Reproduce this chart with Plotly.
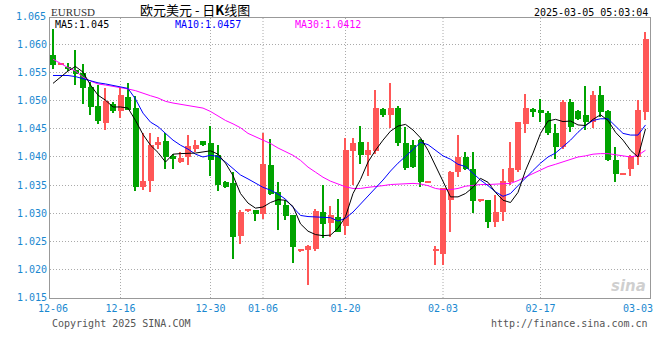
import plotly.graph_objects as go

# ---------------- data ----------------
tick_labels = ["12-06", "12-16", "12-30", "01-06", "01-20", "02-03", "02-17", "03-03"]
tick_idx = [0, 9, 21, 28, 39, 52, 65, 78]
y_ticks = [1.015, 1.020, 1.025, 1.030, 1.035, 1.040, 1.045, 1.050, 1.055, 1.060]

opens = [1.0581, 1.0564, 1.0561, 1.0554, 1.0550, 1.0524, 1.0490, 1.0461, 1.0495, 1.0482,
         1.0507, 1.0487, 1.0347, 1.0357, 1.0422, 1.0428, 1.0401, 1.0391, 1.0400, 1.0414,
         1.0428, 1.0425, 1.0403, 1.0356, 1.0353, 1.0259, 1.0304, 1.0305, 1.0298, 1.0385,
         1.0338, 1.0314, 1.0296, 1.0233, 1.0235, 1.0236, 1.0303, 1.0283, 1.0293, 1.0278,
         1.0411, 1.0427, 1.0403, 1.0411, 1.0486, 1.0474, 1.0488, 1.0425, 1.0421, 1.0431,
         1.0355, 1.0233, 1.0227, 1.0323, 1.0373, 1.0400, 1.0378, 1.0322, 1.0323, 1.0284,
         1.0302, 1.0356, 1.0376, 1.0459, 1.0486, 1.0483, 1.0479, 1.0442, 1.0418, 1.0498,
         1.0481, 1.0474, 1.0462, 1.0510, 1.0481, 1.0394, 1.0369, 1.0378, 1.0400, 1.0480]
highs = [1.0627, 1.0567, 1.0568, 1.0591, 1.0566, 1.0534, 1.0528, 1.0522, 1.0498, 1.0522,
         1.0532, 1.0508, 1.0443, 1.0443, 1.0436, 1.0442, 1.0406, 1.0409, 1.0439, 1.0430,
         1.0429, 1.0455, 1.0421, 1.0357, 1.0373, 1.0306, 1.0306, 1.0306, 1.0443, 1.0432,
         1.0356, 1.0323, 1.0297, 1.0237, 1.0243, 1.0308, 1.0351, 1.0312, 1.0326, 1.0433,
         1.0433, 1.0455, 1.0427, 1.0520, 1.0488, 1.0532, 1.0490, 1.0454, 1.0430, 1.0432,
         1.0357, 1.0241, 1.0345, 1.0375, 1.0439, 1.0409, 1.0409, 1.0324, 1.0324, 1.0332,
         1.0379, 1.0427, 1.0463, 1.0512, 1.0487, 1.0503, 1.0481, 1.0458, 1.0501, 1.0503,
         1.0483, 1.0526, 1.0517, 1.0526, 1.0483, 1.0418, 1.0372, 1.0403, 1.0501, 1.0623]
lows = [1.0556, 1.0563, 1.0553, 1.0528, 1.0495, 1.0474, 1.0458, 1.0448, 1.0478, 1.0470,
        1.0484, 1.0340, 1.0342, 1.0338, 1.0415, 1.0378, 1.0378, 1.0389, 1.0385, 1.0409,
        1.0420, 1.0367, 1.0340, 1.0345, 1.0219, 1.0246, 1.0303, 1.0287, 1.0290, 1.0332,
        1.0270, 1.0288, 1.0212, 1.0231, 1.0172, 1.0233, 1.0255, 1.0257, 1.0266, 1.0261,
        1.0350, 1.0387, 1.0367, 1.0405, 1.0472, 1.0451, 1.0420, 1.0377, 1.0380, 1.0346,
        1.0354, 1.0208, 1.0207, 1.0267, 1.0364, 1.0376, 1.0300, 1.0321, 1.0274, 1.0275,
        1.0287, 1.0350, 1.0374, 1.0443, 1.0471, 1.0462, 1.0440, 1.0397, 1.0415, 1.0445,
        1.0466, 1.0448, 1.0451, 1.0471, 1.0392, 1.0356, 1.0368, 1.0367, 1.0385, 1.0465]
closes = [1.0564, 1.0566, 1.0557, 1.0548, 1.0523, 1.0489, 1.0464, 1.0500, 1.0482, 1.0510,
          1.0484, 1.0347, 1.0357, 1.0421, 1.0427, 1.0400, 1.0397, 1.0398, 1.0419, 1.0421,
          1.0422, 1.0394, 1.0350, 1.0347, 1.0258, 1.0303, 1.0305, 1.0298, 1.0387, 1.0335,
          1.0314, 1.0295, 1.0240, 1.0235, 1.0241, 1.0304, 1.0280, 1.0296, 1.0267, 1.0412,
          1.0425, 1.0403, 1.0412, 1.0488, 1.0474, 1.0488, 1.0425, 1.0380, 1.0382, 1.0356,
          1.0356, 1.0235, 1.0344, 1.0373, 1.0400, 1.0379, 1.0322, 1.0323, 1.0284, 1.0303,
          1.0357, 1.0380, 1.0462, 1.0488, 1.0480, 1.0480, 1.0442, 1.0418, 1.0498, 1.0453,
          1.0468, 1.0462, 1.0510, 1.0480, 1.0394, 1.0370, 1.0370, 1.0401, 1.0483, 1.0610]

ma5 = [1.0531, 1.0542, 1.0553, 1.0561, 1.0551, 1.0528, 1.0510, 1.0501, 1.0489, 1.0489,
       1.0487, 1.0465, 1.0440, 1.0421, 1.0408, 1.0391, 1.0405, 1.0406, 1.0406, 1.0407,
       1.0409, 1.0411, 1.0405, 1.0389, 1.0367, 1.0335, 1.0318, 1.0309, 1.0311, 1.0319,
       1.0324, 1.0323, 1.0312, 1.0281, 1.0268, 1.0262, 1.0260, 1.0261, 1.0273, 1.0294,
       1.0335, 1.0360, 1.0391, 1.0412, 1.0430, 1.0446, 1.0455, 1.0458, 1.0448, 1.0434,
       1.0412, 1.0385, 1.0359, 1.0329, 1.0329, 1.0335, 1.0346, 1.0362, 1.0355, 1.0337,
       1.0323, 1.0319, 1.0337, 1.0376, 1.0407, 1.0442, 1.0464, 1.0467, 1.0463, 1.0464,
       1.0457, 1.0456, 1.0467, 1.0475, 1.0465, 1.0444, 1.0430, 1.0412, 1.0400, 1.0450]
ma10 = [1.0545, 1.0545, 1.0545, 1.0543, 1.0539, 1.0535, 1.0532, 1.0530, 1.0527, 1.0524,
        1.0522, 1.0503, 1.0478, 1.0462, 1.0454, 1.0442, 1.0430, 1.0421, 1.0414, 1.0405,
        1.0400, 1.0403, 1.0401, 1.0391, 1.0379, 1.0368, 1.0361, 1.0353, 1.0346, 1.0341,
        1.0334, 1.0325, 1.0311, 1.0296, 1.0294, 1.0293, 1.0293, 1.0292, 1.0286, 1.0291,
        1.0302, 1.0316, 1.0330, 1.0344, 1.0359, 1.0375, 1.0389, 1.0401, 1.0414, 1.0426,
        1.0422, 1.0412, 1.0402, 1.0396, 1.0387, 1.0383, 1.0371, 1.0359, 1.0349, 1.0338,
        1.0330, 1.0335, 1.0349, 1.0363, 1.0376, 1.0389, 1.0400, 1.0407, 1.0419, 1.0430,
        1.0444, 1.0456, 1.0465, 1.0468, 1.0468, 1.0455, 1.0442, 1.0439, 1.0439, 1.0457]
ma30 = [1.0574, 1.0566, 1.0559, 1.0553, 1.0542, 1.0535, 1.0530, 1.0528, 1.0526, 1.0524,
        1.0521, 1.0518, 1.0513, 1.0509, 1.0505, 1.0499, 1.0496, 1.0494, 1.0492, 1.0490,
        1.0487, 1.0481, 1.0473, 1.0465, 1.0459, 1.0452, 1.0442, 1.0436, 1.0431, 1.0424,
        1.0416, 1.0409, 1.0403, 1.0394, 1.0382, 1.0373, 1.0364, 1.0357, 1.0352, 1.0347,
        1.0344, 1.0344, 1.0346, 1.0347, 1.0349, 1.0351, 1.0352, 1.0353, 1.0353, 1.0352,
        1.0349, 1.0344, 1.0342, 1.0342, 1.0344, 1.0348, 1.0350, 1.0351, 1.0351, 1.0352,
        1.0353, 1.0353, 1.0358, 1.0364, 1.0370, 1.0377, 1.0383, 1.0387, 1.0391, 1.0396,
        1.0400, 1.0402, 1.0405, 1.0406, 1.0406, 1.0404, 1.0402, 1.0400, 1.0403, 1.0412]

# ---------------- figure ----------------
RED = "#ff5757"
GREEN = "#00a300"
n = len(opens)
idx = list(range(n))
up = [c >= o for o, c in zip(opens, closes)]
colors = [RED if u else GREEN for u in up]
body_base = [min(o, c) for o, c in zip(opens, closes)]
body_h = [max(abs(c - o), 0.00018) for o, c in zip(opens, closes)]
wick_h = [h - l for h, l in zip(highs, lows)]

fig = go.Figure()
fig.add_trace(go.Bar(x=idx, y=wick_h, base=lows, width=0.14,
                     marker=dict(color=colors, line=dict(width=0)), hoverinfo="skip"))
fig.add_trace(go.Bar(x=idx, y=body_h, base=body_base, width=0.8,
                     marker=dict(color=colors, line=dict(width=0)), hoverinfo="skip"))
fig.add_trace(go.Scatter(x=idx, y=ma30, mode="lines", line=dict(color="#ff00ff", width=1)))
fig.add_trace(go.Scatter(x=idx, y=ma10, mode="lines", line=dict(color="#0000ff", width=1)))
fig.add_trace(go.Scatter(x=idx, y=ma5, mode="lines", line=dict(color="#000000", width=1)))

mono = "DejaVu Sans Mono"
axis_blue = "#1a88d0"
grid_col = "#aaaaaa"

fig.update_layout(
    width=660, height=360,
    margin=dict(l=50, r=10, t=18, b=62, autoexpand=False),
    paper_bgcolor="white", plot_bgcolor="white",
    showlegend=False, barmode="overlay", bargap=0,
    hovermode=False,
    xaxis=dict(range=[-0.4, 79.6], showgrid=False, zeroline=False, automargin=False,
               tickmode="array", tickvals=tick_idx, ticktext=tick_labels,
               tickfont=dict(family=mono, size=10, color=axis_blue),
               ticks="", ticklabelstandoff=1,
               showline=True, linecolor="#999999", linewidth=1, mirror=True),
    yaxis=dict(range=[1.01491, 1.06473], zeroline=False, automargin=False,
               tickmode="array", tickvals=y_ticks,
               ticktext=["%.3f" % v for v in y_ticks],
               tickfont=dict(family=mono, size=10, color=axis_blue),
               ticks="", ticklabelstandoff=0,
               showgrid=True, gridcolor=grid_col, griddash="1px,2px", gridwidth=1,
               showline=True, linecolor="#999999", linewidth=1, mirror=True),
)

# vertical dotted gridlines at date ticks
for v in tick_idx[1:-1]:
    fig.add_shape(type="line", xref="x", yref="paper", x0=v, x1=v, y0=0, y1=1,
                  line=dict(color=grid_col, width=1, dash="1px,2px"), layer="below")

# top price label just above the frame
fig.add_annotation(xref="paper", yref="paper", x=0, y=1, yshift=1.5, xshift=-2,
                   text="1.065", showarrow=False, xanchor="right", yanchor="middle",
                   font=dict(family=mono, size=10, color=axis_blue))

# header texts
fig.add_annotation(xref="paper", yref="paper", x=0, y=1, yshift=6.5, xshift=-1,
                   xanchor="left", yanchor="middle", text="EURUSD", showarrow=False,
                   font=dict(family="Liberation Serif", size=11, color="#333333"))
fig.add_annotation(xref="paper", yref="paper", x=(138 - 50) / 600, y=1, yshift=9,
                   xanchor="left", yanchor="middle",
                   text="欧元美元 - 日<b>K</b>线图", showarrow=False,
                   font=dict(family="Noto Sans CJK SC", size=13, color="#000000"))
fig.add_annotation(xref="paper", yref="paper", x=1, y=1, yshift=6, xanchor="right", yanchor="middle",
                   text="2025-03-05 05:03:04", showarrow=False,
                   font=dict(family=mono, size=10, color="#000000"))

ma_labels = [("MA5:%.3f" % ma5[-1], "#000000", 0.005),
             ("MA10:%.4f" % ma10[-1], "#0000ff", 0.205),
             ("MA30:%.4f" % ma30[-1], "#ff00ff", 0.405)]
for txt, col, xp in ma_labels:
    fig.add_annotation(xref="paper", yref="paper", x=xp, y=1, yshift=-6,
                       xanchor="left", yanchor="middle",
                       text=txt, showarrow=False, font=dict(family=mono, size=10, color=col))

# footer
fig.add_annotation(xref="paper", yref="paper", x=0, y=0, yshift=-25, xanchor="left", yanchor="middle",
                   text="Copyright 2025 SINA.COM", showarrow=False,
                   font=dict(family=mono, size=10, color="#555555"))
fig.add_annotation(xref="paper", yref="paper", x=1, y=0, yshift=-25, xanchor="right", yanchor="middle",
                   text="http://finance.sina.com.cn", showarrow=False,
                   font=dict(family=mono, size=10, color="#555555"))
# watermark
fig.add_annotation(xref="paper", yref="paper", x=0.997, y=0.005, xanchor="right", yanchor="bottom",
                   text="<b><i>sina</i></b>", showarrow=False,
                   font=dict(family="DejaVu Sans", size=15, color="rgba(175,175,175,0.6)"))

fig.write_html("out.html", config={"displayModeBar": False},
               post_script="document.body.style.margin='0';document.body.style.overflow='hidden';")
